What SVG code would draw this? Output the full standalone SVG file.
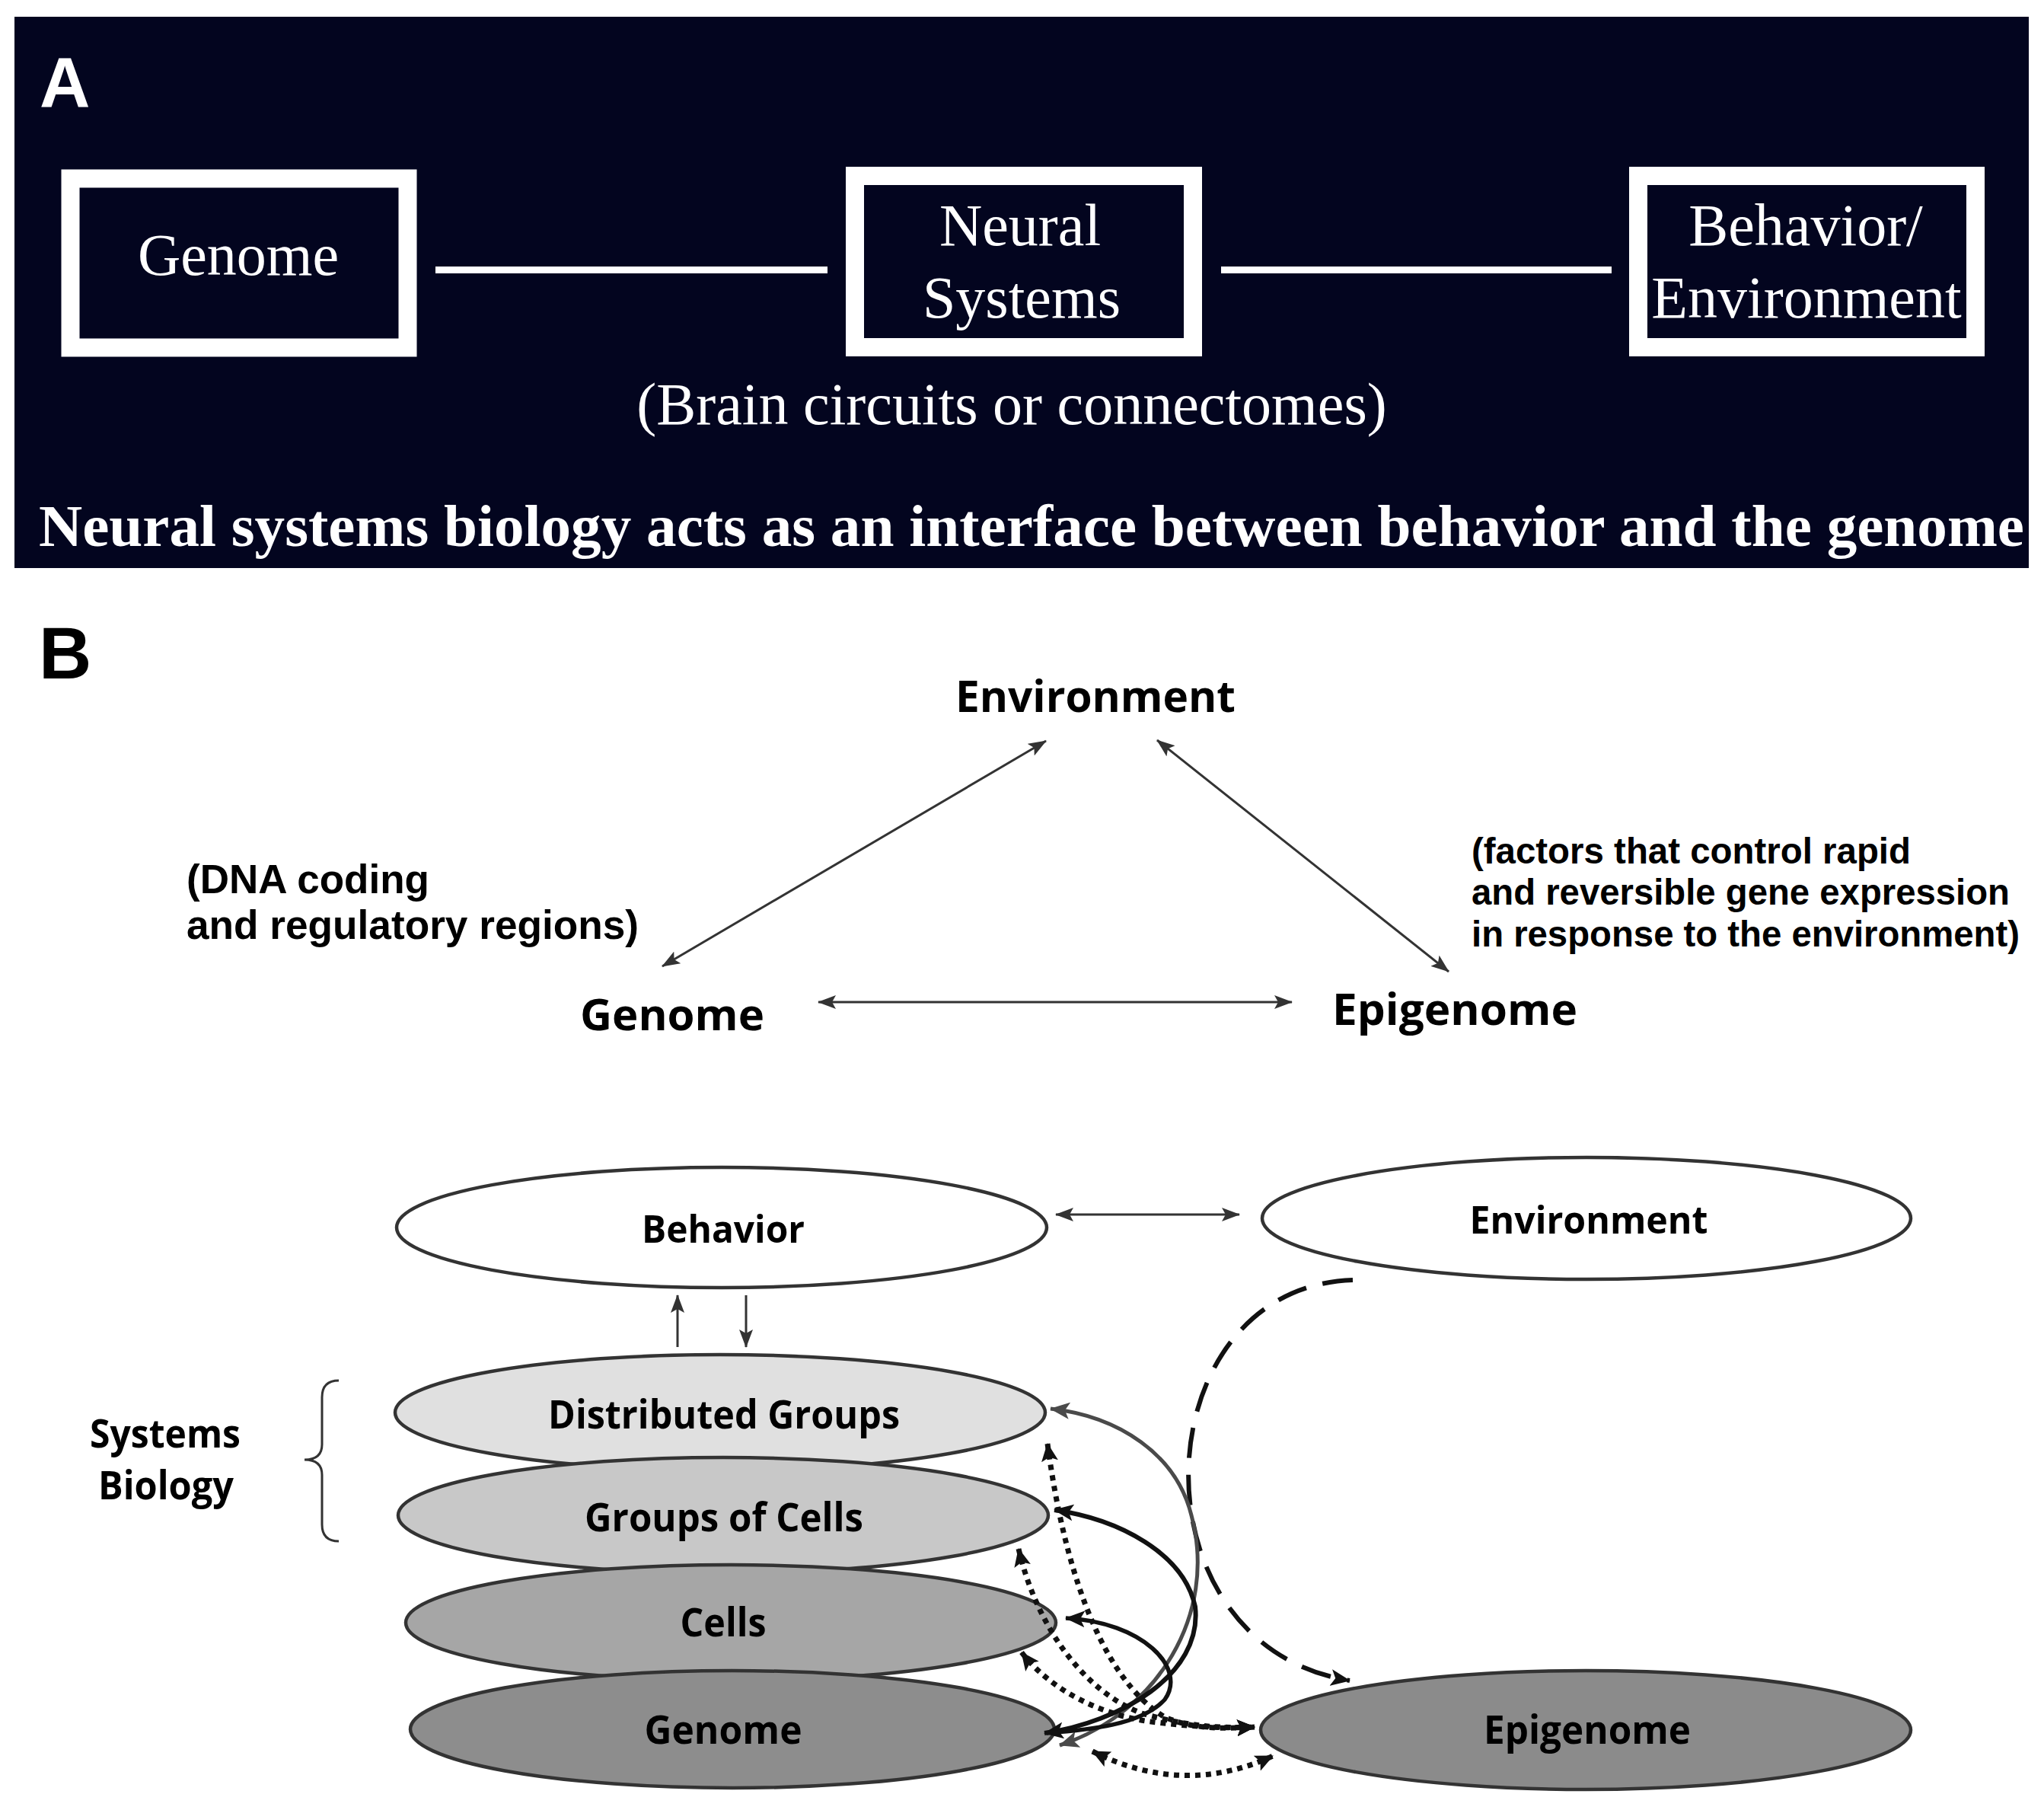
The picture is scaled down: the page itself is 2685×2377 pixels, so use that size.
<svg xmlns="http://www.w3.org/2000/svg" width="2685" height="2377" viewBox="0 0 2685 2377">
<style>
.serif{font-family:"Liberation Serif","Times New Roman",serif;fill:#fff;font-size:78px}
.box{fill:none;stroke:#fff;stroke-width:24}
.wline{fill:#fff}
.node{font-family:"Open Sans","Liberation Sans",Arial,sans-serif;font-weight:700;fill:#000}
.lbl{font-family:"Liberation Sans",Arial,sans-serif;font-weight:700;fill:#000}
.ell{stroke:#333;stroke-width:4.5}
.thin{stroke:#333;stroke-width:3;fill:none}
.dot{stroke:#111;stroke-width:7;stroke-dasharray:7 7;fill:none}
.dash{stroke:#111;stroke-width:6;stroke-dasharray:40 22;fill:none}
</style>
<defs>
<marker id="ah" viewBox="0 0 24 18" refX="23" refY="9" markerWidth="24" markerHeight="18" markerUnits="userSpaceOnUse" orient="auto-start-reverse"><path d="M0,0 L24,9 L0,18 L5,9 z" fill="#333"/></marker>
<marker id="ahB" viewBox="0 0 26 22" refX="25" refY="11" markerWidth="26" markerHeight="22" markerUnits="userSpaceOnUse" orient="auto-start-reverse"><path d="M0,0 L26,11 L0,22 L6,11 z" fill="#111"/></marker>
<marker id="ahG" viewBox="0 0 26 22" refX="25" refY="11" markerWidth="26" markerHeight="22" markerUnits="userSpaceOnUse" orient="auto-start-reverse"><path d="M0,0 L26,11 L0,22 L6,11 z" fill="#4a4a4a"/></marker>
<marker id="ahD" viewBox="0 0 24 22" refX="23" refY="11" markerWidth="24" markerHeight="22" markerUnits="userSpaceOnUse" orient="auto-start-reverse"><path d="M0,0 L24,11 L0,22 L5,11 z" fill="#111"/></marker>
</defs>

<rect x="0" y="0" width="2685" height="2377" fill="#fff"/>

<!-- Panel A -->
<g id="panelA">
<rect x="19" y="22" width="2646" height="724" fill="#03051f"/>
<text x="52" y="140" font-family="Liberation Sans, Arial, sans-serif" font-weight="700" font-size="92" fill="#fff">A</text>
<g id="a-genome">
<rect class="box" x="92.5" y="234.5" width="443" height="222" stroke-width="25"/>
<text class="serif" x="313" y="361" text-anchor="middle">Genome</text>
</g>
<g id="a-neural">
<rect class="box" x="1123" y="231" width="444" height="225"/>
<text class="serif" x="1340" y="322" text-anchor="middle">Neural</text>
<text class="serif" x="1342" y="417" text-anchor="middle">Systems</text>
</g>
<g id="a-behavior">
<rect class="box" x="2152" y="231" width="443" height="225"/>
<text class="serif" x="2372" y="322" text-anchor="middle">Behavior/</text>
<text class="serif" x="2373" y="417" text-anchor="middle">Environment</text>
</g>
<g id="a-connectors">
<rect class="wline" x="572" y="350" width="515" height="9"/>
<rect class="wline" x="1604" y="350" width="513" height="9"/>
</g>
<text class="serif" x="1329" y="557" text-anchor="middle">(Brain circuits or connectomes)</text>
<text class="serif" x="51" y="717" font-weight="700" textLength="2608" lengthAdjust="spacingAndGlyphs">Neural systems biology acts as an interface between behavior and the genome</text>
</g>

<!-- Panel B -->
<text x="51" y="891" font-family="Liberation Sans, Arial, sans-serif" font-weight="700" font-size="96" fill="#000">B</text>

<g id="b-env-top"><text class="node" x="1439" y="935" font-size="58" text-anchor="middle" textLength="368" lengthAdjust="spacingAndGlyphs">Environment</text></g>
<g id="b-genome-top"><text class="node" x="883" y="1353" font-size="58" text-anchor="middle" textLength="242" lengthAdjust="spacingAndGlyphs">Genome</text></g>
<g id="b-epigenome-top"><text class="node" x="1911" y="1346" font-size="58" text-anchor="middle" textLength="322" lengthAdjust="spacingAndGlyphs">Epigenome</text></g>

<g id="b-dna-label">
<text class="lbl" x="245" y="1173" font-size="53" textLength="319" lengthAdjust="spacingAndGlyphs">(DNA coding</text>
<text class="lbl" x="245" y="1233" font-size="53" textLength="594" lengthAdjust="spacingAndGlyphs">and regulatory regions)</text>
</g>
<g id="b-epi-label">
<text class="lbl" x="1933" y="1134" font-size="47.5" textLength="577" lengthAdjust="spacingAndGlyphs">(factors that control rapid</text>
<text class="lbl" x="1933" y="1188" font-size="47.5" textLength="707" lengthAdjust="spacingAndGlyphs">and reversible gene expression</text>
<text class="lbl" x="1933" y="1243" font-size="47.5" textLength="720" lengthAdjust="spacingAndGlyphs">in response to the environment)</text>
</g>

<g id="b-systems-biology">
<text class="node" x="217" y="1901" font-size="52" text-anchor="middle" textLength="198" lengthAdjust="spacingAndGlyphs">Systems</text>
<text class="node" x="218" y="1969" font-size="52" text-anchor="middle" textLength="178" lengthAdjust="spacingAndGlyphs">Biology</text>
<path class="thin" d="M445 1813 Q423 1813 423 1835 L423 1897 Q423 1917 400 1917 Q423 1917 423 1937 L423 2002 Q423 2024 445 2024"/>
</g>

<g id="n-behavior">
<ellipse class="ell" cx="948" cy="1612" rx="427" ry="79" fill="#fff"/>
<text class="node" x="950" y="1632" font-size="50" text-anchor="middle" textLength="214" lengthAdjust="spacingAndGlyphs">Behavior</text>
</g>
<g id="n-environment">
<ellipse class="ell" cx="2084" cy="1600" rx="426" ry="80" fill="#fff"/>
<text class="node" x="2087" y="1620" font-size="50" text-anchor="middle" textLength="313" lengthAdjust="spacingAndGlyphs">Environment</text>
</g>
<g id="n-distributed">
<ellipse class="ell" cx="946" cy="1855" rx="427" ry="76" fill="#e0e0e0"/>
<text class="node" x="951" y="1876" font-size="52" text-anchor="middle" textLength="462" lengthAdjust="spacingAndGlyphs">Distributed Groups</text>
</g>
<g id="n-groups">
<ellipse class="ell" cx="950" cy="1990" rx="427" ry="76" fill="#c8c8c8"/>
<text class="node" x="951" y="2011" font-size="52" text-anchor="middle" textLength="366" lengthAdjust="spacingAndGlyphs">Groups of Cells</text>
</g>
<g id="n-cells">
<ellipse class="ell" cx="960" cy="2131" rx="427" ry="76" fill="#a6a6a6"/>
<text class="node" x="950" y="2149" font-size="52" text-anchor="middle" textLength="113" lengthAdjust="spacingAndGlyphs">Cells</text>
</g>
<g id="n-genome">
<ellipse class="ell" cx="962" cy="2271" rx="423" ry="77" fill="#8d8d8d"/>
<text class="node" x="950" y="2290" font-size="52" text-anchor="middle" textLength="207" lengthAdjust="spacingAndGlyphs">Genome</text>
</g>
<g id="n-epigenome">
<ellipse class="ell" cx="2083" cy="2272" rx="427" ry="78" fill="#8b8b8b"/>
<text class="node" x="2085" y="2290" font-size="52" text-anchor="middle" textLength="272" lengthAdjust="spacingAndGlyphs">Epigenome</text>
</g>

<g id="connectors">
<line class="thin" x1="870" y1="1269" x2="1374" y2="973" marker-start="url(#ah)" marker-end="url(#ah)"/>
<line class="thin" x1="1520" y1="972" x2="1903" y2="1276" marker-start="url(#ah)" marker-end="url(#ah)"/>
<line class="thin" x1="1075" y1="1316" x2="1697" y2="1316" marker-start="url(#ah)" marker-end="url(#ah)"/>
<line class="thin" x1="1387" y1="1595" x2="1628" y2="1595" marker-start="url(#ah)" marker-end="url(#ah)"/>
<line class="thin" x1="890" y1="1769" x2="890" y2="1701" marker-end="url(#ah)"/>
<line class="thin" x1="980" y1="1701" x2="980" y2="1769" marker-end="url(#ah)"/>
<path class="dash" d="M1777 1681 C1500 1690 1480 2160 1773 2207" marker-end="url(#ahB)"/>
<path d="M1392 2292 C1520 2250 1600 2120 1565 1990 C1545 1910 1470 1860 1380 1850" fill="none" stroke="#4a4a4a" stroke-width="5" marker-start="url(#ahG)" marker-end="url(#ahG)"/>
<path d="M1372 2276 C1470 2262 1580 2200 1570 2110 C1555 2040 1470 1995 1385 1983" fill="none" stroke="#111" stroke-width="6" marker-start="url(#ahB)" marker-end="url(#ahB)"/>
<path d="M1375 2276 C1430 2272 1500 2265 1530 2232 C1560 2190 1500 2130 1400 2125" fill="none" stroke="#111" stroke-width="5.5" marker-end="url(#ahB)"/>
<path class="dot" d="M1376 1896 C1395 2040 1440 2200 1530 2255 C1570 2272 1610 2270 1648 2268" marker-start="url(#ahD)" marker-end="url(#ahD)"/>
<path class="dot" d="M1338 2034 C1360 2130 1420 2220 1500 2250 C1560 2268 1610 2270 1648 2268" marker-start="url(#ahD)" marker-end="url(#ahD)"/>
<path class="dot" d="M1342 2170 C1380 2220 1450 2255 1520 2262 C1570 2268 1610 2270 1648 2268" marker-start="url(#ahD)" marker-end="url(#ahD)"/>
<path class="dot" d="M1435 2300 Q1555 2360 1672 2306" marker-start="url(#ahD)" marker-end="url(#ahD)"/>
</g>
</svg>
